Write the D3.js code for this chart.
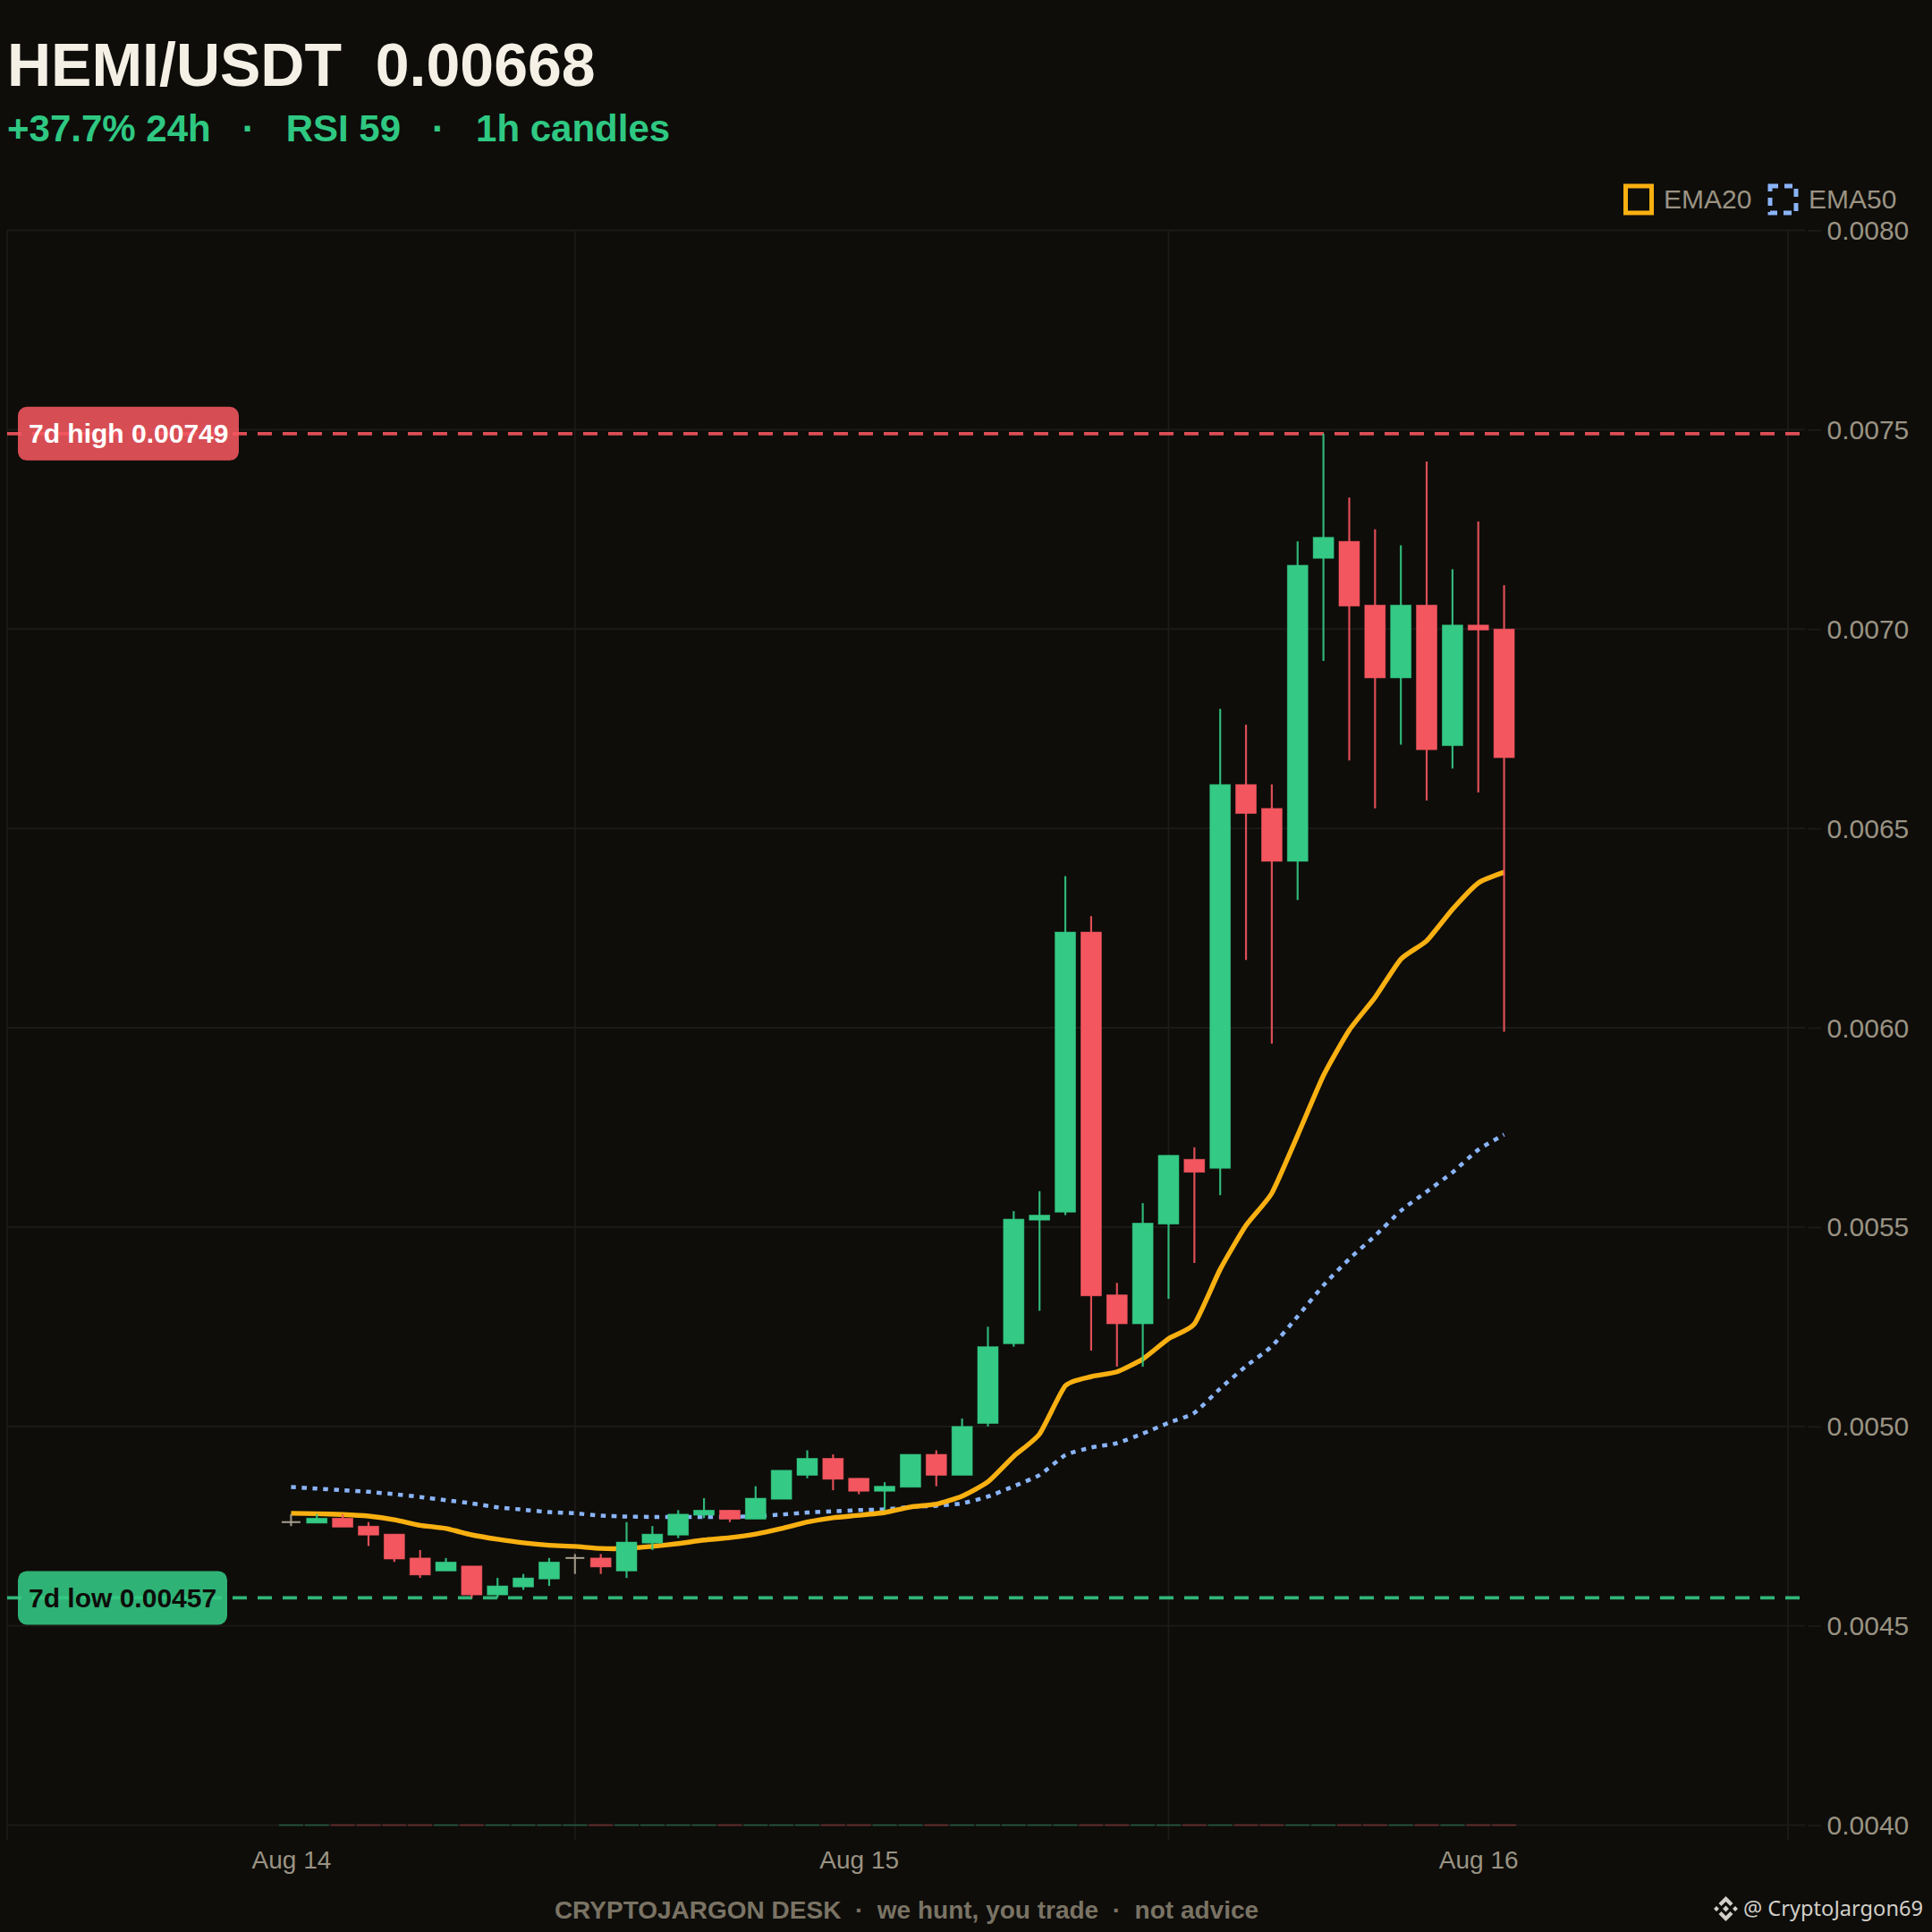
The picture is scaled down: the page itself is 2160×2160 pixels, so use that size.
<!DOCTYPE html>
<html><head><meta charset="utf-8">
<script src="https://cdn.jsdelivr.net/npm/d3@7"></script>
<style>
html,body{margin:0;padding:0;background:#0e0d0a}
svg{display:block}
text{white-space:pre;font-family:"Liberation Sans",Arial,sans-serif}
</style></head><body>
<svg id="chart" width="2160" height="2160"></svg>
<script>
const opens  = [.00476,.00476,.00477,.00475,.00473,.00467,.00464,.00465,.00458,.00460,.00462,.00467,.00467,.00464,.00471,.00473,.00478,.00479,.00477,.00482,.00488,.00492,.00487,.00484,.00485,.00493,.00488,.00501,.00521,.00552,.00554,.00624,.00533,.00526,.00551,.00567,.00565,.00661,.00655,.00642,.00718,.00722,.00706,.00688,.00706,.00671,.00701,.00700];
const closes = [.00476,.00477,.00475,.00473,.00467,.00463,.00466,.00458,.00460,.00462,.00466,.00467,.00465,.00471,.00473,.00478,.00479,.00477,.00482,.00489,.00492,.00487,.00484,.00485,.00493,.00488,.00500,.00520,.00552,.00553,.00624,.00533,.00526,.00551,.00568,.00564,.00661,.00654,.00642,.00716,.00723,.00706,.00688,.00706,.00670,.00701,.00700,.00668];
const highs  = [.00478,.00478,.00478,.00476,.00473,.00469,.00467,.00465,.00462,.00463,.00467,.00468,.00468,.00476,.00475,.00479,.00482,.00479,.00485,.00489,.00494,.00493,.00487,.00486,.00493,.00494,.00502,.00525,.00554,.00559,.00638,.00628,.00536,.00556,.00568,.00570,.00680,.00676,.00661,.00722,.00749,.00733,.00725,.00721,.00742,.00715,.00727,.00711];
const lows   = [.00475,.00476,.00475,.00470,.00466,.00462,.00464,.00457,.00457,.00459,.00460,.00463,.00463,.00462,.00469,.00472,.00477,.00476,.00477,.00482,.00487,.00484,.00483,.00479,.00485,.00485,.00488,.00500,.00520,.00529,.00553,.00519,.00515,.00515,.00532,.00541,.00558,.00617,.00596,.00632,.00692,.00667,.00655,.00671,.00657,.00665,.00659,.00599];
const ema20  = [.004782,.004781,.004779,.004775,.004766,.004752,.004744,.004728,.004717,.004708,.004702,.004699,.004694,.004694,.004699,.004706,.004715,.004721,.004730,.004744,.004760,.004771,.004777,.004784,.004798,.004805,.004825,.004861,.004925,.004981,.005102,.005125,.005137,.005169,.005220,.005257,.005394,.005504,.005585,.005730,.005880,.005994,.006076,.006172,.006218,.006297,.006363,.006390];
const ema50  = [.004848,.004844,.004840,.004836,.004830,.004823,.004815,.004807,.004797,.004791,.004785,.004782,.004776,.004774,.004773,.004773,.004773,.004773,.004775,.004779,.004784,.004787,.004790,.004792,.004798,.004801,.004807,.004824,.004850,.004878,.004928,.004947,.004958,.004982,.005009,.005034,.005095,.005151,.005201,.005276,.005354,.005420,.005478,.005541,.005589,.005637,.005694,.005732];
const yTicks = [.0040,.0045,.0050,.0055,.0060,.0065,.0070,.0075,.0080];
const xLabels = new Map([[0,"Aug 14"],[22,"Aug 15"],[46,"Aug 16"]]);
const xGrid = [-11,11,34,58];
const levels = [
  {label:"7d high 0.00749", value:.00749, color:"#f4565f", fill:"#f4565f", text:"#ffffff", w:247},
  {label:"7d low 0.00457",  value:.00457, color:"#34c984", fill:"#34c984", text:"#0d0c09", w:234}
];
const legend = [
  {name:"EMA20", color:"#f9b011", dash:null, bx:1817.5, tx:1860},
  {name:"EMA50", color:"#8ab4f8", dash:"9 7", bx:1979, tx:2022}
];
const UP="#34c984", DOWN="#f4565f", DOJI="#a69f8e", GRID="#1c1b18", TXT="#9a9383";

const svg=d3.select("#chart");
svg.append("rect").attr("width",2160).attr("height",2160).attr("fill","#0e0d0a");
const x=d3.scaleLinear().domain([-11,58]).range([8,1999]);
const y=d3.scaleLinear().domain([.004,.008]).range([2040.5,257.5]);
const idx=d3.range(opens.length);

// grid
svg.append("g").selectAll("line").data(yTicks).join("line")
  .attr("x1",8).attr("x2",2018).attr("y1",d=>y(d)).attr("y2",d=>y(d))
  .attr("stroke",GRID).attr("stroke-width",1.8);
svg.append("g").selectAll("line").data(xGrid).join("line")
  .attr("x1",d=>x(d)).attr("x2",d=>x(d)).attr("y1",257.5).attr("y2",2057)
  .attr("stroke",GRID).attr("stroke-width",1.8);

// axes
const yAxis=d3.axisRight(y).tickValues(yTicks).tickFormat(d3.format(".4f")).tickSize(15).tickPadding(6.5);
const gy=svg.append("g").attr("transform","translate(2021,0)").call(yAxis);
gy.select(".domain").remove();
gy.selectAll("line").attr("stroke",GRID).attr("stroke-width",1.8);
gy.selectAll("text").attr("fill",TXT).style("font-size","30px").attr("dy","0.335em");
const xAxis=d3.axisBottom(x).tickValues([...xLabels.keys()]).tickFormat(d=>xLabels.get(d)).tickSize(0).tickPadding(0);
const gx=svg.append("g").attr("transform","translate(0,2089)").call(xAxis);
gx.select(".domain").remove();
gx.selectAll("text").attr("fill",TXT).attr("y",0).attr("dy",0).style("font-size","28px");

// volume baseline slivers
svg.append("g").selectAll("rect").data(idx).join("rect")
  .attr("x",i=>x(i)-13.5).attr("width",27).attr("y",y(.004)-0.8).attr("height",1.6)
  .attr("fill",i=>closes[i]>=opens[i]?UP:DOWN).attr("opacity",.38);

// reference levels
svg.append("g").selectAll("line").data(levels).join("line")
  .attr("x1",8).attr("x2",2013).attr("y1",d=>y(d.value)).attr("y2",d=>y(d.value))
  .attr("stroke",d=>d.color).attr("stroke-width",3.8).attr("stroke-dasharray","16 12").attr("opacity",.9);

// EMA lines
const ln=d3.line().x((d,i)=>x(i)).y(d=>y(d)).curve(d3.curveCardinal.tension(0.45));
svg.append("path").attr("d",ln(ema50)).attr("fill","none").attr("stroke","#8ab4f8")
  .attr("stroke-width",4.5).attr("stroke-dasharray","5.5 6.5");
svg.append("path").attr("d",ln(ema20)).attr("fill","none").attr("stroke","#f9b011")
  .attr("stroke-width",5.4);

// candles
const colorOf=i=>opens[i]===closes[i]?DOJI:(closes[i]>opens[i]?UP:DOWN);
const doji=i=>opens[i]===closes[i];
const c=svg.append("g");
c.selectAll("line").data(idx).join("line")
  .attr("x1",i=>x(i)).attr("x2",i=>x(i)).attr("y1",i=>y(highs[i])).attr("y2",i=>y(lows[i]))
  .attr("stroke",colorOf).attr("stroke-width",2.2).attr("opacity",.9);
c.selectAll("rect").data(idx).join("rect")
  .attr("x",i=>x(i)-(doji(i)?10.5:11.5)).attr("width",i=>doji(i)?21:23)
  .attr("y",i=>y(Math.max(opens[i],closes[i]))-(doji(i)?1:0))
  .attr("height",i=>doji(i)?2:Math.abs(y(opens[i])-y(closes[i]))+1.2)
  .attr("fill",colorOf)
  .attr("stroke",i=>doji(i)?"none":colorOf(i)).attr("stroke-width",0.8).attr("stroke-opacity",.6);

// level labels
const lab=svg.append("g").selectAll("g").data(levels).join("g")
  .attr("transform",d=>`translate(20,${y(d.value)-30})`);
lab.append("rect").attr("width",d=>d.w).attr("height",60).attr("rx",10)
  .attr("fill",d=>d.fill).attr("opacity",.88);
lab.append("text").text(d=>d.label).attr("x",12).attr("y",40.3).attr("fill",d=>d.text)
  .style("font-size","30px").style("font-weight","700");

// legend
const lg=svg.append("g").selectAll("g").data(legend).join("g");
lg.append("rect").attr("x",d=>d.bx).attr("y",208).attr("width",29).attr("height",30)
  .attr("fill","none").attr("stroke",d=>d.color).attr("stroke-width",5).attr("stroke-dasharray",d=>d.dash);
lg.append("text").text(d=>d.name).attr("x",d=>d.tx).attr("y",233).attr("fill",TXT).style("font-size","30px");

// titles
svg.append("text").text("HEMI/USDT  0.00668").attr("x",8).attr("y",96)
  .attr("fill","#f5f0e6").style("font-size","68px").style("font-weight","700");
svg.append("text").text("+37.7% 24h   ·   RSI 59   ·   1h candles").attr("x",8).attr("y",158)
  .attr("fill","#2fc882").style("font-size","42px").style("font-weight","700");
svg.append("text").text("CRYPTOJARGON DESK  ·  we hunt, you trade  ·  not advice").attr("x",1013.5).attr("y",2145)
  .attr("text-anchor","middle").attr("fill","#7a7364").style("font-size","28px").style("font-weight","700");

// watermark
const wm=svg.append("g").attr("transform","translate(1929.5,2134)").attr("fill","#d2cfc8");
wm.append("path").attr("d","M0,-14 L8,-6 L5,-3 L0,-8 L-5,-3 L-8,-6 Z M0,14 L8,6 L5,3 L0,8 L-5,3 L-8,6 Z M0,-3.5 L3.5,0 L0,3.5 L-3.5,0 Z M-10.5,-3 L-7.5,0 L-10.5,3 L-13.5,0 Z M10.5,-3 L13.5,0 L10.5,3 L7.5,0 Z");
svg.append("text").text("@ CryptoJargon69").attr("x",1949).attr("y",2142)
  .attr("fill","#d2cfc8").style("font-size","24px").style("font-family","'Noto Sans','Open Sans',sans-serif")
  .attr("textLength",201).attr("lengthAdjust","spacingAndGlyphs");
</script>
</body></html>
